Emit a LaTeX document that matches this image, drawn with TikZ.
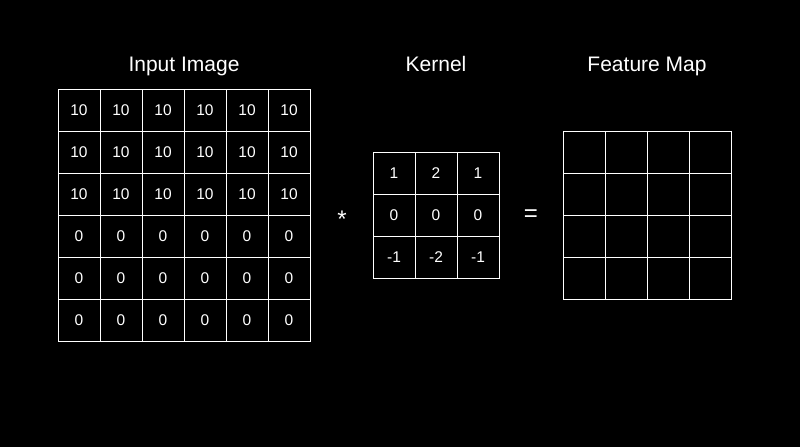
\documentclass[tikz,border=0pt]{standalone}
\usepackage{fontspec}
\setmainfont{Liberation Sans}
\begin{document}
\begin{tikzpicture}[x=1pt,y=-1pt,
  cell/.style={draw=white,line width=0.8pt,minimum size=42pt,inner sep=0pt,text=white,font=\fontsize{15.5}{15.5}\selectfont},
  ttl/.style={text=white,anchor=base,font=\fontsize{21}{21}\selectfont},
  op/.style={text=white,font=\fontsize{24}{24}\selectfont}]
\fill[black] (0,0) rectangle (800,447);
\useasboundingbox (0,0) rectangle (800,447);
\node[ttl] (t1) at (184,71) {Input Image};
\node[ttl] (t2) at (436,71) {Kernel};
\node[ttl] (t3) at (647,71) {Feature Map};
\foreach \r in {0,...,5}{\foreach \c in {0,...,5}{
  \pgfmathsetmacro\v{\r<3 ? "10" : "0"}
  \node[cell] (in\r\c) at (79+42*\c,110+42*\r) {\v};}}
\foreach \r/\a/\b/\cc in {0/1/2/1,1/0/0/0,2/-1/-2/-1}{
  \node[cell] (k\r0) at (394,173+42*\r) {\a};
  \node[cell] (k\r1) at (436,173+42*\r) {\b};
  \node[cell] (k\r2) at (478,173+42*\r) {\cc};}
\foreach \r in {0,...,3}{\foreach \c in {0,...,3}{
  \node[cell] (f\r\c) at (584+42*\c,152+42*\r) {};}}
\node[op] (star) at (342,219) {*};
\node[op] (eq) at (531,216) {=};
\end{tikzpicture}
\end{document}
